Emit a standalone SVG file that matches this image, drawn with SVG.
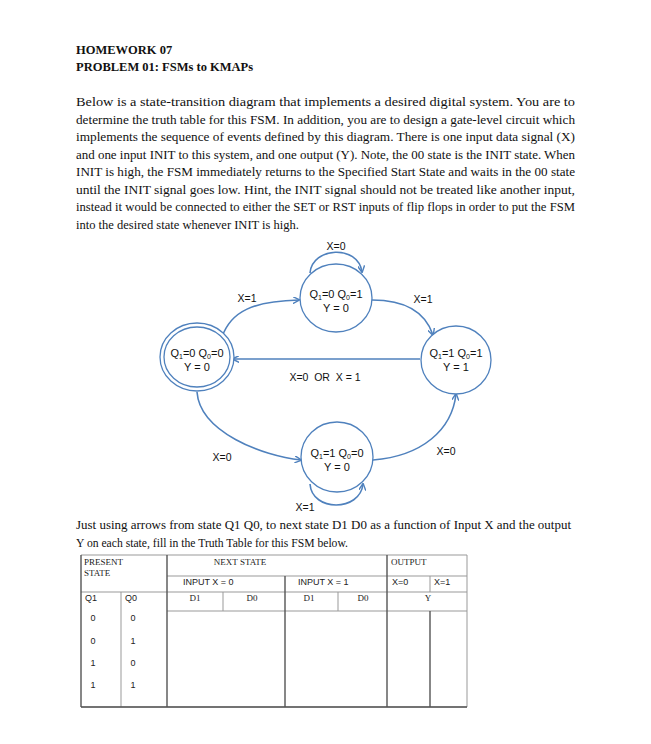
<svg xmlns="http://www.w3.org/2000/svg" width="651" height="744" viewBox="0 0 651 744">
<defs>
<style>
.h{font-family:"Liberation Serif","Times New Roman",serif;font-weight:bold;font-size:12.5px;fill:#111}
.p{font-family:"Liberation Serif","Times New Roman",serif;font-size:12.8px;fill:#111}
.n{font-family:"Liberation Sans",Arial,sans-serif;font-size:11px;fill:#111;text-anchor:middle}
.lb{font-family:"Liberation Sans",Arial,sans-serif;font-size:10.5px;fill:#111;text-anchor:middle}
.st{fill:#fff;stroke:#4f81bd;stroke-width:1.3}
.e{fill:none;stroke:#4f81bd;stroke-width:1.6;marker-end:url(#ah)}
.ts{font-family:"Liberation Serif","Times New Roman",serif;font-size:9px;fill:#222}
.tn{font-family:"Liberation Sans",Arial,sans-serif;font-size:9px;fill:#222}
.g1{stroke:#999;stroke-width:1;fill:none}
.g2{stroke:#555;stroke-width:1.4;fill:none}
</style>
<marker id="ah" viewBox="0 0 10 10" refX="9" refY="5" markerWidth="7" markerHeight="7" markerUnits="userSpaceOnUse" orient="auto">
<path d="M0,0 L10,5 L0,10" fill="none" stroke="#4f81bd" stroke-width="2"/>
</marker>
</defs>
<rect width="651" height="744" fill="#fff"/>
<g id="header">
<text class="h" x="76" y="54">HOMEWORK 07</text>
<text class="h" x="76" y="71">PROBLEM 01: FSMs to KMAPs</text>
</g>
<g id="paragraph">
<text class="p" x="76" y="106" textLength="499" lengthAdjust="spacingAndGlyphs">Below is a state-transition diagram that implements a desired digital system. You are to</text>
<text class="p" x="76" y="123.5" textLength="499" lengthAdjust="spacingAndGlyphs">determine the truth table for this FSM. In addition, you are to design a gate-level circuit which</text>
<text class="p" x="76" y="141" textLength="499" lengthAdjust="spacingAndGlyphs">implements the sequence of events defined by this diagram. There is one input data signal (X)</text>
<text class="p" x="76" y="158.5" textLength="499" lengthAdjust="spacingAndGlyphs">and one input INIT to this system, and one output (Y).  Note, the 00 state is the INIT state.  When</text>
<text class="p" x="76" y="176" textLength="499" lengthAdjust="spacingAndGlyphs">INIT is high, the FSM immediately returns to the Specified Start State and waits in the 00 state</text>
<text class="p" x="76" y="193.5" textLength="499" lengthAdjust="spacingAndGlyphs">until the INIT signal goes low. Hint, the INIT signal should not be treated like another input,</text>
<text class="p" x="76" y="211" textLength="499" lengthAdjust="spacingAndGlyphs">instead it would be connected to either the SET or RST inputs of flip flops in order to put the FSM</text>
<text class="p" x="76" y="228.5" textLength="223" lengthAdjust="spacingAndGlyphs">into the desired state whenever INIT is high.</text>
</g>
<g id="connectors">
<path class="e" d="M310,273 C312,247 358,244 362,272"/>
<path class="e" d="M310,484 C312,512 360,512 363,484"/>
<path class="e" d="M222,337 C231,311 254,301 299,300"/>
<path class="e" d="M372,300 C404,300 425,311 433,335"/>
<path class="e" d="M420,359 L233,359"/>
<path class="e" d="M197,392 C200,432 262,456 301,460"/>
<path class="e" d="M373,460 C422,456 452,430 456,394"/>
<text class="lb" x="336" y="250">X=0</text>
<text class="lb" x="305" y="511">X=1</text>
<text class="lb" x="247" y="302">X=1</text>
<text class="lb" x="423" y="303">X=1</text>
<text class="lb" x="325" y="381" xml:space="preserve">X=0  OR  X = 1</text>
<text class="lb" x="222" y="461">X=0</text>
<text class="lb" x="446" y="455">X=0</text>
</g>
<g id="s00">
<ellipse class="st" cx="197" cy="357" rx="37" ry="34"/>
<ellipse class="st" cx="197" cy="357" rx="33" ry="30"/>
<text class="n" x="197" y="357">Q<tspan font-size="7" dy="1.5">1</tspan><tspan dy="-1.5">=0 Q</tspan><tspan font-size="7" dy="1.5">0</tspan><tspan dy="-1.5">=0</tspan></text>
<text class="n" x="197" y="371">Y = 0</text>
</g>
<g id="s01">
<ellipse class="st" cx="336" cy="298" rx="36" ry="34"/>
<text class="n" x="336" y="298">Q<tspan font-size="7" dy="1.5">1</tspan><tspan dy="-1.5">=0 Q</tspan><tspan font-size="7" dy="1.5">0</tspan><tspan dy="-1.5">=1</tspan></text>
<text class="n" x="336" y="312">Y = 0</text>
</g>
<g id="s11">
<ellipse class="st" cx="456" cy="360" rx="35" ry="34"/>
<text class="n" x="456" y="357">Q<tspan font-size="7" dy="1.5">1</tspan><tspan dy="-1.5">=1 Q</tspan><tspan font-size="7" dy="1.5">0</tspan><tspan dy="-1.5">=1</tspan></text>
<text class="n" x="456" y="371">Y = 1</text>
</g>
<g id="s10">
<ellipse class="st" cx="337" cy="457" rx="36" ry="35"/>
<text class="n" x="337" y="457">Q<tspan font-size="7" dy="1.5">1</tspan><tspan dy="-1.5">=1 Q</tspan><tspan font-size="7" dy="1.5">0</tspan><tspan dy="-1.5">=0</tspan></text>
<text class="n" x="337" y="471">Y = 0</text>
</g>
<g id="question">
<text class="p" x="76" y="529" textLength="495" lengthAdjust="spacingAndGlyphs">Just using arrows from state Q1 Q0, to next state D1 D0 as a function of Input X and the output</text>
<text class="p" x="76" y="546.5" textLength="272" lengthAdjust="spacingAndGlyphs">Y on each state, fill in the Truth Table for this FSM below.</text>
</g>
<g id="table">
<path class="g1" d="M81,555 H467 M167,576 H467 M81,592 H467 M167,611 H467 M81,707 H467 M467,555 V707 M121,592 V707 M223,592 V611 M338,592 V611 M430,576 V592"/>
<path class="g2" d="M81,555 V707 M167,555 V707 M285,576 V707 M387,555 V707 M430,611 V707 M81,707 H467"/>
<text class="ts" x="84" y="565">PRESENT</text>
<text class="ts" x="84" y="576">STATE</text>
<text class="ts" x="240" y="565" text-anchor="middle">NEXT STATE</text>
<text class="ts" x="391" y="565">OUTPUT</text>
<text class="tn" x="183" y="585">INPUT X = 0</text>
<text class="tn" x="298" y="585">INPUT X = 1</text>
<text class="tn" x="392" y="585">X=0</text>
<text class="tn" x="434" y="585">X=1</text>
<text class="tn" x="85" y="601">Q1</text>
<text class="tn" x="125" y="601">Q0</text>
<text class="ts" x="195" y="601" text-anchor="middle">D1</text>
<text class="ts" x="252" y="601" text-anchor="middle">D0</text>
<text class="ts" x="309" y="601" text-anchor="middle">D1</text>
<text class="ts" x="363" y="601" text-anchor="middle">D0</text>
<text class="ts" x="428" y="601" text-anchor="middle">Y</text>
<g class="tn" text-anchor="middle">
<text x="93" y="621">0</text><text x="133" y="621">0</text>
<text x="93" y="644">0</text><text x="133" y="644">1</text>
<text x="93" y="666">1</text><text x="133" y="666">0</text>
<text x="93" y="688">1</text><text x="133" y="688">1</text>
</g>
</g>
</svg>
